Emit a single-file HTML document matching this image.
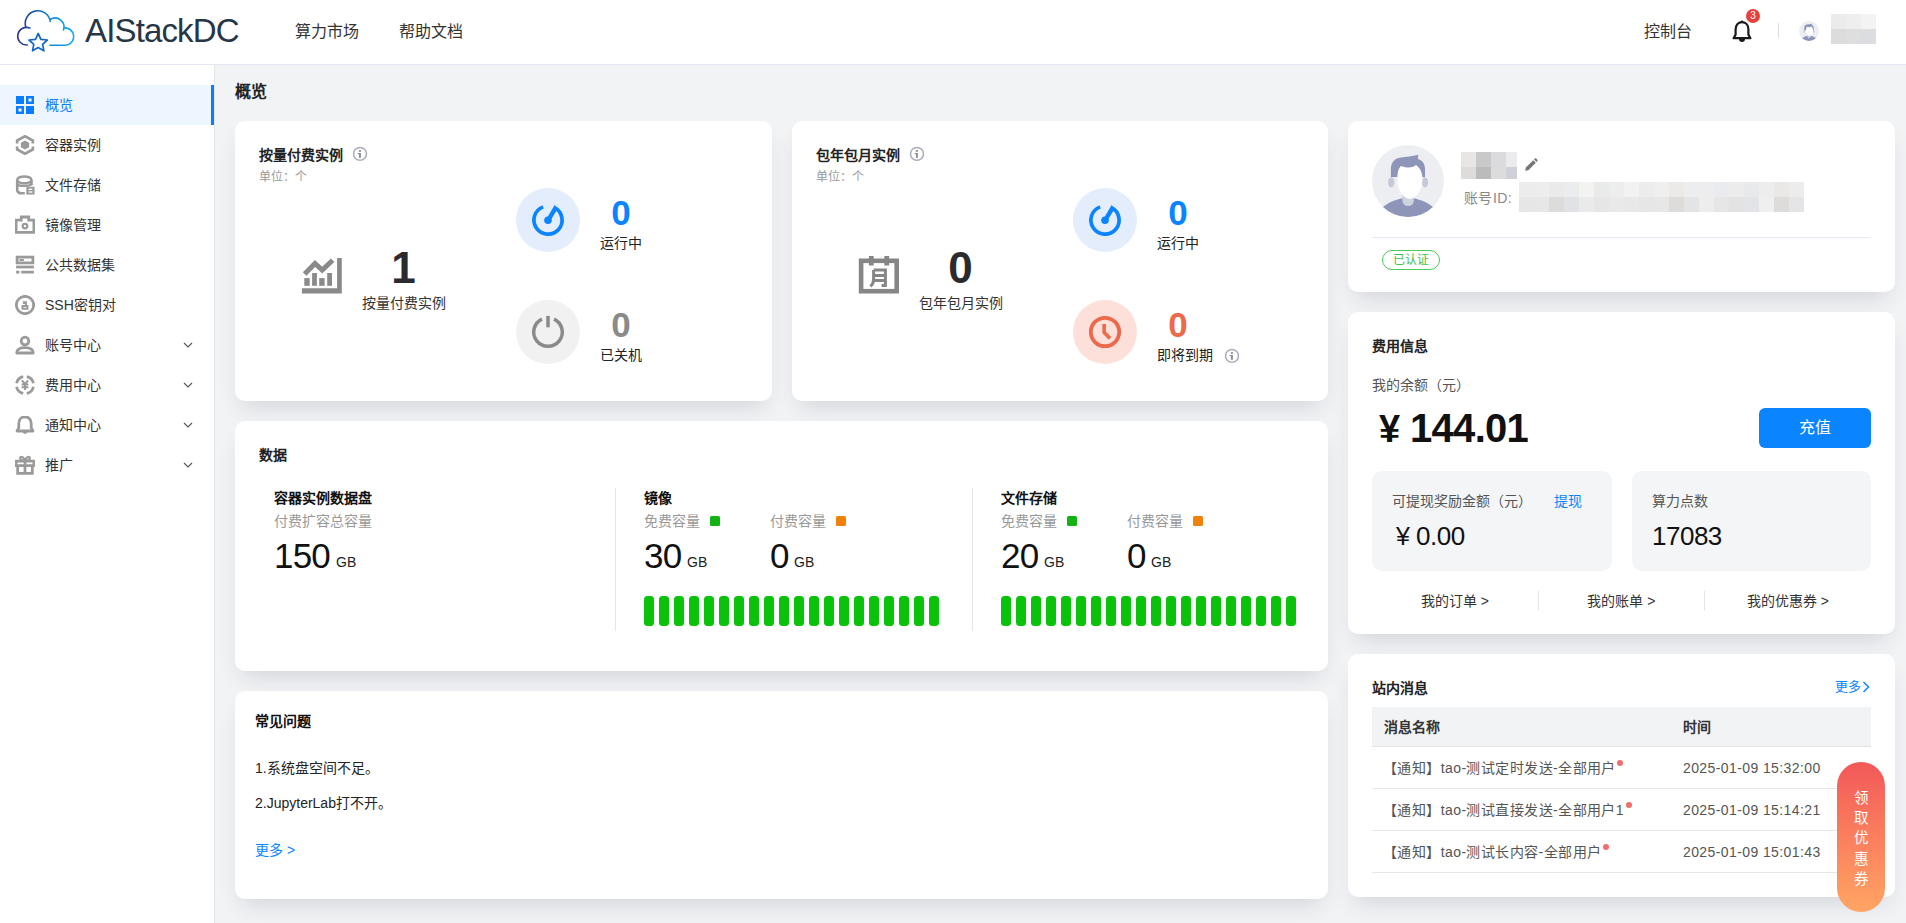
<!DOCTYPE html>
<html lang="zh-CN">
<head>
<meta charset="utf-8">
<title>AIStackDC</title>
<style>
*{box-sizing:border-box;margin:0;padding:0}
html,body{width:1906px;height:923px;overflow:hidden}
body{font-family:"Liberation Sans",sans-serif;background:#f2f3f5;color:#333;position:relative;font-size:14px}
.a{position:absolute}
.t{position:absolute;white-space:nowrap;line-height:1}
.b{font-weight:bold}
/* header */
#hd{position:absolute;left:0;top:0;width:1906px;height:65px;background:#fff;border-bottom:1px solid #e3e7f3}
/* sidebar */
#sb{position:absolute;left:0;top:65px;width:215px;height:858px;background:#fff;border-right:1px solid #e4e5e8}
.mi{position:absolute;left:0;width:214px;height:40px}
.mi .tx{position:absolute;left:45px;top:13px;font-size:14px;line-height:14px;color:#333;white-space:nowrap}
.mi svg.ic{position:absolute;left:16px;top:11px;width:18px;height:18px}
.mi svg.ic2{position:absolute;left:15px;top:10px;width:20px;height:20px}
.mi svg.ch{position:absolute;left:183px;top:15px;width:10px;height:10px}
.mi.on{background:#edf5ff}
.mi.on .tx{color:#0a7cff}
.mi.on:after{content:"";position:absolute;right:0;top:0;width:3px;height:40px;background:#0a7cff}
/* cards */
.card{position:absolute;background:#fff;border-radius:10px;box-shadow:0 12px 24px -8px rgba(20,30,50,.16)}

.ct{position:absolute;left:24px;top:27px;font-size:14px;line-height:14px;font-weight:bold;color:#222;white-space:nowrap}
.cu{position:absolute;left:24px;top:50px;font-size:12px;line-height:12px;color:#999;white-space:nowrap}
.cc{position:absolute;text-align:center;white-space:nowrap;line-height:1}
.circ{position:absolute;width:64px;height:64px;border-radius:32px}
.info{position:absolute;width:16px;height:16px;margin:-1px 0 0 -0.2px}

.hl{position:absolute;height:1px}
.gb{position:absolute;background:#f4f5f7;border-radius:10px}
.th{position:absolute;left:24px;top:53px;width:499px;height:40px;background:#f2f3f5;border-bottom:1px solid #e2e3e6}
.tr{position:absolute;left:24px;width:499px;height:42px;border-bottom:1px solid #e6e7ea}
.dot{position:absolute;width:6px;height:6px;border-radius:3px;background:#f56c6c}

.sq{position:absolute;width:10px;height:10px;border-radius:1.5px}
.seg{position:absolute;top:0;width:10px;height:30px;border-radius:3.5px;background:#0ac20a}
.big{position:absolute;white-space:nowrap;line-height:1;font-size:35px;color:#111;letter-spacing:-0.8px;margin-top:-1px}
.gbu{position:absolute;white-space:nowrap;line-height:1;font-size:14px;color:#222}
</style>
</head>
<body>
<svg width="0" height="0" style="position:absolute"><defs>
<symbol id="avatar" viewBox="0 0 72 72">
<clipPath id="avc"><circle cx="36" cy="36" r="36"/></clipPath>
<circle cx="36" cy="36" r="36" fill="#edeef2"/>
<g clip-path="url(#avc)">
<path d="M4 74 C6 62 18 56 30 53.2 L42 53.2 C54 56 66 62 68 74 Z" fill="#8e95b8"/>
<path d="M30.4 48 L41.9 48 L41.9 55.6 A5.75 5.4 0 0 1 30.4 55.6 Z" fill="#cfd2df"/>
<ellipse cx="19.2" cy="37.4" rx="3.2" ry="5.1" fill="#c5c9d9"/><ellipse cx="53" cy="37.4" rx="3.1" ry="5.1" fill="#c5c9d9"/>
<path d="M18.9 32 L18.9 24 C18.9 17 23 13 29 12.4 C34 12 40 11.6 46.4 9.8 C46.2 11.6 46 13 45.9 14 C50 15 53 18.4 53 24 L53 32 Z" fill="#8e95b8"/>
<path d="M25.4 32 C25.4 27 26.6 23.4 28.9 21 C31 21.8 34 22.5 36.9 22.5 C39.5 22.5 41.8 21.8 43.9 20 C47.6 22.6 50.3 27 50.3 32 L50.3 36 C50.3 45 44 53.9 37.7 53.9 C31.4 53.9 25.4 45 25.4 36 Z" fill="#fff"/>
</g>
</symbol>
</defs></svg>
<!-- HEADER -->
<div id="hd">
<svg class="a" style="left:10px;top:4px" width="72" height="54" viewBox="10 4 72 54" fill="none">
<defs><linearGradient id="lg" x1="16" y1="0" x2="75" y2="0" gradientUnits="userSpaceOnUse"><stop offset="0" stop-color="#2b2b80"/><stop offset=".3" stop-color="#1a5cb0"/><stop offset=".6" stop-color="#0d8ad9"/><stop offset="1" stop-color="#14adf0"/></linearGradient></defs>
<path d="M27.3 45 A8.8 8.8 0 1 1 29.9 28.1 M25.9 27.4 A12.6 12.6 0 1 1 50.3 21.5 M50.4 19.3 A9 9 0 0 1 63.5 30 M63.8 28 A8.65 8.65 0 1 1 65.45 45.2 L50 45.2" stroke="url(#lg)" stroke-width="1.6" stroke-linecap="round" stroke-linejoin="round"/>
<path d="M38.2 33.4 L40.9 39.3 L47.4 40 L42.6 44.4 L43.9 50.8 L38.2 47.6 L32.5 50.8 L33.8 44.4 L29 40 L35.5 39.3 Z" stroke="#1268c4" stroke-width="1.7" stroke-linejoin="round"/>
</svg>
<div class="t" id="logo" style="left:85px;top:14px;font-size:33px;color:#263646;letter-spacing:-0.85px">AIStackDC</div>
<div class="t" style="left:295px;top:24px;font-size:16px;color:#333">算力市场</div>
<div class="t" style="left:399px;top:24px;font-size:16px;color:#333">帮助文档</div>
<div class="t" style="left:1644px;top:24px;font-size:16px;color:#333">控制台</div>
<svg class="a" style="left:1732px;top:20px" width="20" height="23" viewBox="0 0 20 23" fill="none">
<path d="M10 2.2 C5.6 2.2 3.6 5.6 3.6 9.4 L3.6 14.6 L1.6 18.2 L18.4 18.2 L16.4 14.6 L16.4 9.4 C16.4 5.6 14.4 2.2 10 2.2 Z" stroke="#1a1a1a" stroke-width="2.2" stroke-linejoin="round"/>
<path d="M7 19 A3 3 0 0 0 13 19 Z" fill="#1a1a1a"/>
<circle cx="10" cy="1.8" r="1.3" fill="#1a1a1a"/>
</svg>
<div class="a" style="left:1746px;top:9px;width:14px;height:14px;border-radius:7px;background:#e8413a;color:#fff;font-size:10px;line-height:14px;text-align:center">3</div>
<div class="a" style="left:1778px;top:23px;width:1px;height:15px;background:#dcdcdc"></div>
<svg class="a" style="left:1799px;top:21px" width="20" height="20" viewBox="0 0 72 72"><use href="#avatar"/></svg>
<div class="a" style="left:1831px;top:14px;width:45px;height:30px">
<i class="a" style="left:0;top:0;width:15px;height:15px;background:#ebebeb"></i><i class="a" style="left:15px;top:0;width:15px;height:15px;background:#eeeeee"></i><i class="a" style="left:30px;top:0;width:15px;height:15px;background:#f3f3f3"></i>
<i class="a" style="left:0;top:15px;width:15px;height:15px;background:#dddcdb"></i><i class="a" style="left:15px;top:15px;width:15px;height:15px;background:#dedede"></i><i class="a" style="left:30px;top:15px;width:15px;height:15px;background:#dcdde0"></i>
</div>
</div>
<!-- SIDEBAR -->
<div id="sb">
<div class="mi on" style="top:20px"><svg class="ic" viewBox="0 0 18 18"><rect x="0" y="0" width="8" height="8" fill="#0a7cff"/><rect x="10" y="10" width="8" height="8" fill="#0a7cff"/><rect x="11.25" y="1.25" width="5.5" height="5.5" fill="#fff" stroke="#0a7cff" stroke-width="2.5"/><rect x="1.25" y="11.25" width="5.5" height="5.5" fill="#fff" stroke="#0a7cff" stroke-width="2.5"/></svg><span class="tx">概览</span></div>
<div class="mi" style="top:60px"><svg class="ic2" viewBox="0 0 18 18" fill="none"><path d="M1.9 7.7 L1.9 5 L9 1.1 L16.1 5 L16.1 7.7 M1.9 10.3 L1.9 13 L9 16.9 L16.1 13 L16.1 10.3" stroke="#9a9a9a" stroke-width="2.4" stroke-linejoin="miter"/><path d="M9 5 L12.7 7 L12.7 11 L9 13 L5.3 11 L5.3 7 Z" fill="#9a9a9a"/></svg><span class="tx">容器实例</span></div>
<div class="mi" style="top:100px"><svg class="ic2" viewBox="0 0 18 18" fill="none"><path d="M8.8 16.4 L6.4 16.4 C3.4 16.4 2 15.2 2 13.4 L2 4.6 M14.8 4.6 L14.8 9.2" stroke="#9a9a9a" stroke-width="2.4"/><ellipse cx="8.4" cy="4.4" rx="6.4" ry="3.1" stroke="#9a9a9a" stroke-width="2.2"/><path d="M2 8.6 C4 10.2 11.4 10.4 14.8 8.6" stroke="#9a9a9a" stroke-width="2"/><rect x="10.2" y="10.6" width="7.4" height="7" fill="#9a9a9a"/><rect x="12.2" y="12.3" width="3.4" height="1.2" fill="#fff"/><rect x="12.2" y="14.7" width="3.4" height="1.2" fill="#fff"/></svg><span class="tx">文件存储</span></div>
<div class="mi" style="top:140px"><svg class="ic2" viewBox="0 0 18 18" fill="none"><path d="M1 4.6 L5.6 4.6 L5.6 1.8 L12.4 1.8 L12.4 4.6 L17 4.6 L17 15.6 L1 15.6 Z" stroke="#9a9a9a" stroke-width="2.5"/><circle cx="9" cy="10" r="2.1" stroke="#9a9a9a" stroke-width="2"/></svg><span class="tx">镜像管理</span></div>
<div class="mi" style="top:180px"><svg class="ic2" viewBox="0 0 18 18" fill="none"><rect x="1.9" y="1.9" width="14.2" height="5.2" stroke="#9a9a9a" stroke-width="2.5"/><path d="M4 4.5 L8 4.5" stroke="#9a9a9a" stroke-width="1.8"/><path d="M1 10.8 L17 10.8" stroke="#9a9a9a" stroke-width="2.5"/><path d="M1 15.4 L4 15.4 M5.6 15.4 L17 15.4" stroke="#9a9a9a" stroke-width="2.5"/></svg><span class="tx">公共数据集</span></div>
<div class="mi" style="top:220px"><svg class="ic2" viewBox="0 0 18 18" fill="none"><circle cx="9" cy="9" r="7.8" stroke="#9a9a9a" stroke-width="2.5"/><path d="M6.6 12.4 L11.4 12.4 M6.8 10 L11.2 10 L11.2 12.4 L6.8 12.4 Z M9.8 10 L9.8 6.6 L8 6.6 L8 8" stroke="#9a9a9a" stroke-width="1.8"/></svg><span class="tx">SSH密钥对</span></div>
<div class="mi" style="top:260px"><svg class="ic2" viewBox="0 0 18 18" fill="none"><circle cx="9" cy="5.4" r="3.4" stroke="#9a9a9a" stroke-width="2.5"/><path d="M1.6 16.2 L16.4 16.2 C16.4 12.8 13.4 11.4 9 11.4 C4.6 11.4 1.6 12.8 1.6 16.2 Z" stroke="#9a9a9a" stroke-width="2.5" stroke-linejoin="round"/></svg><span class="tx">账号中心</span><svg class="ch" viewBox="0 0 10 10" fill="none"><path d="M1 3 L5 7 L9 3" stroke="#555" stroke-width="1.1"/></svg></div>
<div class="mi" style="top:300px"><svg class="ic2" viewBox="0 0 18 18" fill="none"><path d="M7.4 1.4 A7.8 7.8 0 0 0 1.4 7.4 M1.4 10.6 A7.8 7.8 0 0 0 7.4 16.6 M10.6 16.6 A7.8 7.8 0 0 0 16.6 10.6 M16.6 7.4 A7.8 7.8 0 0 0 10.6 1.4" stroke="#9a9a9a" stroke-width="2.5"/><path d="M6.2 4.8 L9 8.2 L11.8 4.8 M9 8.2 L9 13.4 M6 8.6 L12 8.6 M6 11 L12 11" stroke="#9a9a9a" stroke-width="1.8"/></svg><span class="tx">费用中心</span><svg class="ch" viewBox="0 0 10 10" fill="none"><path d="M1 3 L5 7 L9 3" stroke="#555" stroke-width="1.1"/></svg></div>
<div class="mi" style="top:340px"><svg class="ic2" viewBox="0 0 18 18" fill="none"><path d="M9 1.6 C5.2 1.6 3.4 4.4 3.4 7.6 L3.4 11.6 L1.8 14.4 L16.2 14.4 L14.6 11.6 L14.6 7.6 C14.6 4.4 12.8 1.6 9 1.6 Z" stroke="#9a9a9a" stroke-width="2.5" stroke-linejoin="round"/><path d="M6.8 15.4 A2.3 2.3 0 0 0 11.2 15.4 Z" fill="#9a9a9a"/></svg><span class="tx">通知中心</span><svg class="ch" viewBox="0 0 10 10" fill="none"><path d="M1 3 L5 7 L9 3" stroke="#555" stroke-width="1.1"/></svg></div>
<div class="mi" style="top:380px"><svg class="ic2" viewBox="0 0 18 18" fill="none"><path d="M1 5.6 L17 5.6 L17 9.6 L1 9.6 Z M2.4 9.6 L2.4 16.6 L15.6 16.6 L15.6 9.6 M9 5.6 L9 16.6" stroke="#9a9a9a" stroke-width="2.5"/><path d="M9 5.4 C7 5.4 4.6 4.6 4.6 2.8 C4.6 1.2 7.6 0.8 9 5.4 C10.4 0.8 13.4 1.2 13.4 2.8 C13.4 4.6 11 5.4 9 5.4 Z" stroke="#9a9a9a" stroke-width="2"/></svg><span class="tx">推广</span><svg class="ch" viewBox="0 0 10 10" fill="none"><path d="M1 3 L5 7 L9 3" stroke="#555" stroke-width="1.1"/></svg></div>
</div>
<!-- MAIN -->
<div class="t b" style="left:235px;top:84px;font-size:16px;color:#222">概览</div>
<div class="card" id="c1" style="left:235px;top:121px;width:537px;height:280px"><div class="ct">按量付费实例</div><svg class="info" style="left:117px;top:26px" viewBox="-1 -1 16 16" fill="none"><circle cx="7" cy="6.9" r="6.45" stroke="#a9acb9" stroke-width="1.5"/><rect x="5.9" y="6" width="2" height="4.8" fill="#8f8f8f"/><rect x="4.6" y="6" width="1.5" height="1.1" fill="#8f8f8f"/><rect x="5.8" y="3.1" width="2.2" height="1.7" fill="#8f8f8f"/></svg>
<div class="cu">单位：个</div>
<svg class="a" style="left:66px;top:136px" width="42" height="38" viewBox="0 0 42 38"><path d="M0.9 31.2 L36.1 31.2 L36.1 1.1 L40.8 1.1 L40.8 36.6 L0.9 36.6 Z" fill="#8a8a8a"/><rect x="3.3" y="21.1" width="5.4" height="7.7" fill="#8a8a8a"/><rect x="11.1" y="16" width="4.8" height="12.8" fill="#8a8a8a"/><rect x="18.2" y="21.1" width="5.4" height="7.7" fill="#8a8a8a"/><rect x="26.2" y="16" width="4.8" height="12.8" fill="#8a8a8a"/><path d="M3.6 17 L14 6.5 L21.2 13 L31.6 3.2" stroke="#8a8a8a" stroke-width="5" fill="none"/></svg>
<div class="cc b" style="left:118.5px;width:100px;top:125px;font-size:44px;color:#2b2b2f">1</div>
<div class="cc" style="left:108.5px;width:120px;top:175px;font-size:14px;color:#333">按量付费实例</div>
<div class="circ" style="left:281px;top:67px;background:#e4edfc"><svg class="a" style="left:14px;top:14px" width="36" height="36" viewBox="0 0 34 34" fill="none"><path d="M23.2 5.3 A13.3 13.3 0 1 1 12.4 4.6" stroke="#0a84ff" stroke-width="3.5"/><path d="M15.6 15.8 L23.4 2.6 L25.4 7.6 L18.8 18.4 Z" fill="#0a84ff"/><circle cx="17" cy="17.2" r="3.6" fill="#0a84ff"/></svg></div>
<div class="cc b" style="left:346px;width:80px;top:74px;font-size:35px;color:#0a84ff">0</div>
<div class="cc" style="left:346px;width:80px;top:115px;font-size:14px;color:#222">运行中</div>
<div class="circ" style="left:281px;top:179px;background:#f1f1f1"><svg class="a" style="left:14px;top:14px" width="36" height="36" viewBox="0 0 34 34" fill="none"><path d="M22.7 4.8 A13.5 13.5 0 1 1 11.3 4.8" stroke="#8a8a8a" stroke-width="3.3"/><path d="M17 1.8 L17 12.6" stroke="#8a8a8a" stroke-width="3.3"/></svg></div>
<div class="cc b" style="left:346px;width:80px;top:186px;font-size:35px;color:#8a8a8a">0</div>
<div class="cc" style="left:346px;width:80px;top:227px;font-size:14px;color:#222">已关机</div></div>
<div class="card" id="c2" style="left:792px;top:121px;width:536px;height:280px"><div class="ct">包年包月实例</div><svg class="info" style="left:117px;top:26px" viewBox="-1 -1 16 16" fill="none"><circle cx="7" cy="6.9" r="6.45" stroke="#a9acb9" stroke-width="1.5"/><rect x="5.9" y="6" width="2" height="4.8" fill="#8f8f8f"/><rect x="4.6" y="6" width="1.5" height="1.1" fill="#8f8f8f"/><rect x="5.8" y="3.1" width="2.2" height="1.7" fill="#8f8f8f"/></svg>
<div class="cu">单位：个</div>
<svg class="a" style="left:66px;top:134px" width="42" height="40" viewBox="0 0 42 40" fill="none"><rect x="3.1" y="5.8" width="35.6" height="30.4" stroke="#868686" stroke-width="4.6"/><path d="M13.3 1 L13.3 10.4 M28.75 1 L28.75 10.4" stroke="#868686" stroke-width="4.8"/><path d="M15.6 15 L27.4 15 L27.4 30.6 L23.6 30.6 M15.6 15 L15.6 24.4 C15.6 27.6 14.4 29.6 12.4 31.4 M15.6 20.4 L27.4 20.4 M15.6 25.4 L27.4 25.4" stroke="#868686" stroke-width="3"/></svg>
<div class="cc b" style="left:118.5px;width:100px;top:125px;font-size:44px;color:#2b2b2f">0</div>
<div class="cc" style="left:108.5px;width:120px;top:175px;font-size:14px;color:#333">包年包月实例</div>
<div class="circ" style="left:281px;top:67px;background:#e4edfc"><svg class="a" style="left:14px;top:14px" width="36" height="36" viewBox="0 0 34 34" fill="none"><path d="M23.2 5.3 A13.3 13.3 0 1 1 12.4 4.6" stroke="#0a84ff" stroke-width="3.5"/><path d="M15.6 15.8 L23.4 2.6 L25.4 7.6 L18.8 18.4 Z" fill="#0a84ff"/><circle cx="17" cy="17.2" r="3.6" fill="#0a84ff"/></svg></div>
<div class="cc b" style="left:346px;width:80px;top:74px;font-size:35px;color:#0a84ff">0</div>
<div class="cc" style="left:346px;width:80px;top:115px;font-size:14px;color:#222">运行中</div>
<div class="circ" style="left:281px;top:179px;background:#fde0da"><svg class="a" style="left:14px;top:14px" width="36" height="36" viewBox="0 0 34 34" fill="none"><circle cx="17" cy="17" r="13.4" stroke="#ec6a4b" stroke-width="3.6"/><path d="M16.2 9.4 L16.2 17.4 L21.8 23" stroke="#ec6a4b" stroke-width="3.4"/></svg></div>
<div class="cc b" style="left:346px;width:80px;top:186px;font-size:35px;color:#ec6a4b">0</div>
<div class="t" style="left:365px;top:227px;font-size:14px;color:#222">即将到期</div><svg class="info" style="left:432px;top:228px" viewBox="-1 -1 16 16" fill="none"><circle cx="7" cy="6.9" r="6.45" stroke="#a9acb9" stroke-width="1.5"/><rect x="5.9" y="6" width="2" height="4.8" fill="#8f8f8f"/><rect x="4.6" y="6" width="1.5" height="1.1" fill="#8f8f8f"/><rect x="5.8" y="3.1" width="2.2" height="1.7" fill="#8f8f8f"/></svg></div>
<div class="card" id="c3" style="left:1348px;top:121px;width:547px;height:171px"><svg class="a" style="left:24px;top:24px" width="72" height="72" viewBox="0 0 72 72"><use href="#avatar"/></svg>
<div class="a" style="left:113px;top:31px;width:56px;height:27px;overflow:hidden"><i class="a" style="left:0px;top:0px;width:15px;height:15px;background:#e7e6e4"></i><i class="a" style="left:15px;top:0px;width:15px;height:15px;background:#c9c9c9"></i><i class="a" style="left:30px;top:0px;width:15px;height:15px;background:#dbdbdd"></i><i class="a" style="left:45px;top:0px;width:15px;height:15px;background:#ebebed"></i><i class="a" style="left:0px;top:15px;width:15px;height:12px;background:#dddcdb"></i><i class="a" style="left:15px;top:15px;width:15px;height:12px;background:#bbbbbb"></i><i class="a" style="left:30px;top:15px;width:15px;height:12px;background:#dcdcdc"></i><i class="a" style="left:45px;top:15px;width:15px;height:12px;background:#cfd0d8"></i></div>
<svg class="a" style="left:176px;top:37px" width="14" height="14" viewBox="0 0 14 14"><path d="M1.2 12.8 L1.8 9.6 L9.2 2.2 L11.8 4.8 L4.4 12.2 Z M10 1.4 L10.8 0.6 C11.2 0.2 11.8 0.2 12.2 0.6 L13.4 1.8 C13.8 2.2 13.8 2.8 13.4 3.2 L12.6 4 Z" fill="#777"/></svg>
<div class="t" style="left:116px;top:70px;font-size:14px;color:#888;letter-spacing:.45px">账号ID:</div>
<div class="a" style="left:171px;top:61px;width:285px;height:30px;overflow:hidden"><i class="a" style="left:0.00px;top:0.00px;width:15.50px;height:15.50px;background:#ececec"></i><i class="a" style="left:15.00px;top:0.00px;width:15.50px;height:15.50px;background:#ededed"></i><i class="a" style="left:30.00px;top:0.00px;width:15.50px;height:15.50px;background:#eaeaea"></i><i class="a" style="left:45.00px;top:0.00px;width:15.50px;height:15.50px;background:#ebeced"></i><i class="a" style="left:60.00px;top:0.00px;width:15.50px;height:15.50px;background:#f3f3f2"></i><i class="a" style="left:75.00px;top:0.00px;width:15.50px;height:15.50px;background:#e9eaea"></i><i class="a" style="left:90.00px;top:0.00px;width:15.50px;height:15.50px;background:#ededed"></i><i class="a" style="left:105.00px;top:0.00px;width:15.50px;height:15.50px;background:#f2f2f2"></i><i class="a" style="left:120.00px;top:0.00px;width:15.50px;height:15.50px;background:#ececec"></i><i class="a" style="left:135.00px;top:0.00px;width:15.50px;height:15.50px;background:#efefef"></i><i class="a" style="left:150.00px;top:0.00px;width:15.50px;height:15.50px;background:#ebeae9"></i><i class="a" style="left:165.00px;top:0.00px;width:15.50px;height:15.50px;background:#ecedee"></i><i class="a" style="left:180.00px;top:0.00px;width:15.50px;height:15.50px;background:#ededed"></i><i class="a" style="left:195.00px;top:0.00px;width:15.50px;height:15.50px;background:#eaebee"></i><i class="a" style="left:210.00px;top:0.00px;width:15.50px;height:15.50px;background:#ececec"></i><i class="a" style="left:225.00px;top:0.00px;width:15.50px;height:15.50px;background:#e8e9eb"></i><i class="a" style="left:240.00px;top:0.00px;width:15.50px;height:15.50px;background:#ededed"></i><i class="a" style="left:255.00px;top:0.00px;width:15.50px;height:15.50px;background:#e9e8e7"></i><i class="a" style="left:270.00px;top:0.00px;width:15.50px;height:15.50px;background:#ececec"></i><i class="a" style="left:0.00px;top:15.00px;width:15.50px;height:15.50px;background:#e6e6e6"></i><i class="a" style="left:15.00px;top:15.00px;width:15.50px;height:15.50px;background:#e7e7e7"></i><i class="a" style="left:30.00px;top:15.00px;width:15.50px;height:15.50px;background:#dcdcdc"></i><i class="a" style="left:45.00px;top:15.00px;width:15.50px;height:15.50px;background:#e1e2e5"></i><i class="a" style="left:60.00px;top:15.00px;width:15.50px;height:15.50px;background:#eaeaea"></i><i class="a" style="left:75.00px;top:15.00px;width:15.50px;height:15.50px;background:#e6e6e6"></i><i class="a" style="left:90.00px;top:15.00px;width:15.50px;height:15.50px;background:#e9e9e9"></i><i class="a" style="left:105.00px;top:15.00px;width:15.50px;height:15.50px;background:#e8e8e8"></i><i class="a" style="left:120.00px;top:15.00px;width:15.50px;height:15.50px;background:#e6e6e6"></i><i class="a" style="left:135.00px;top:15.00px;width:15.50px;height:15.50px;background:#e7e7e7"></i><i class="a" style="left:150.00px;top:15.00px;width:15.50px;height:15.50px;background:#dedcdb"></i><i class="a" style="left:165.00px;top:15.00px;width:15.50px;height:15.50px;background:#e3e4e5"></i><i class="a" style="left:180.00px;top:15.00px;width:15.50px;height:15.50px;background:#ededed"></i><i class="a" style="left:195.00px;top:15.00px;width:15.50px;height:15.50px;background:#e6e6e6"></i><i class="a" style="left:210.00px;top:15.00px;width:15.50px;height:15.50px;background:#e3e3e3"></i><i class="a" style="left:225.00px;top:15.00px;width:15.50px;height:15.50px;background:#e3e4e7"></i><i class="a" style="left:240.00px;top:15.00px;width:15.50px;height:15.50px;background:#efefef"></i><i class="a" style="left:255.00px;top:15.00px;width:15.50px;height:15.50px;background:#dddcda"></i><i class="a" style="left:270.00px;top:15.00px;width:15.50px;height:15.50px;background:#e5e5e7"></i></div>
<div class="hl" style="left:24px;top:116px;width:499px;background:#e4e9f7"></div>
<div class="a" style="left:34px;top:129px;width:58px;height:20px;border:1px solid #4cc95a;border-radius:10px;color:#3fc24f;font-size:12px;line-height:18px;text-align:center;white-space:nowrap">已认证</div></div>
<div class="card" id="c4" style="left:1348px;top:312px;width:547px;height:322px"><div class="t b" style="left:24px;top:27px;font-size:14px;color:#222">费用信息</div>
<div class="t" style="left:24px;top:66px;font-size:14px;color:#555">我的余额（元）</div>
<div class="t b" id="yen1" style="left:31px;top:98px;font-size:38px;color:#111">¥</div><div class="t b" id="bal" style="left:62px;top:96px;font-size:40px;color:#111;letter-spacing:-0.7px">144.01</div>
<div class="a" style="left:411px;top:96px;width:112px;height:40px;border-radius:6px;background:#0a84ff;color:#fff;font-size:16px;line-height:40px;text-align:center">充值</div>
<div class="gb" style="left:24px;top:159px;width:240px;height:100px"></div>
<div class="gb" style="left:284px;top:159px;width:239px;height:100px"></div>
<div class="t" style="left:44px;top:182px;font-size:14px;color:#555">可提现奖励金额（元）</div>
<div class="t" style="left:206px;top:182px;font-size:14px;color:#0a84ff">提现</div>
<div class="t" id="yen2" style="left:48px;top:212px;font-size:25px;color:#111">¥</div><div class="t" id="rew" style="left:68px;top:211px;font-size:26px;color:#111;letter-spacing:-0.5px">0.00</div>
<div class="t" style="left:304px;top:182px;font-size:14px;color:#555">算力点数</div>
<div class="t" id="pts" style="left:304px;top:211px;font-size:26px;color:#111;letter-spacing:-0.5px">17083</div>
<div class="cc" style="left:24px;width:166px;top:282px;font-size:14px;color:#333">我的订单 &gt;</div>
<div class="cc" style="left:190px;width:167px;top:282px;font-size:14px;color:#333">我的账单 &gt;</div>
<div class="cc" style="left:357px;width:166px;top:282px;font-size:14px;color:#333">我的优惠券 &gt;</div>
<div class="a" style="left:190px;top:279px;width:1px;height:19px;background:#e3e3e3"></div>
<div class="a" style="left:356px;top:279px;width:1px;height:19px;background:#e3e3e3"></div></div>
<div class="card" id="c5" style="left:1348px;top:654px;width:547px;height:243px"><div class="t b" style="left:24px;top:27px;font-size:14px;color:#222">站内消息</div>
<div class="t" style="left:487px;top:26px;font-size:13px;color:#0a84ff">更多</div>
<svg class="a" style="left:514px;top:27px" width="8" height="12" viewBox="0 0 8 12" fill="none"><path d="M1.5 1 L6.5 6 L1.5 11" stroke="#0a84ff" stroke-width="1.5"/></svg>
<div class="th"><div class="t b" style="left:12px;top:13px;font-size:14px;color:#333">消息名称</div><div class="t b" style="left:311px;top:13px;font-size:14px;color:#333">时间</div></div>
<div class="tr" style="top:93px"><div class="t msg" style="left:11px;top:14px;font-size:14px;color:#555;letter-spacing:.42px">【通知】tao-测试定时发送-全部用户</div><i class="dot" style="left:245px;top:13px"></i><div class="t tm" style="left:311px;top:14px;font-size:14px;color:#555;letter-spacing:0.4px">2025-01-09 15:32:00</div></div>
<div class="tr" style="top:135px"><div class="t msg" style="left:11px;top:14px;font-size:14px;color:#555;letter-spacing:.42px">【通知】tao-测试直接发送-全部用户1</div><i class="dot" style="left:254px;top:13px"></i><div class="t tm" style="left:311px;top:14px;font-size:14px;color:#555;letter-spacing:0.4px">2025-01-09 15:14:21</div></div>
<div class="tr" style="top:177px"><div class="t msg" style="left:11px;top:14px;font-size:14px;color:#555;letter-spacing:.42px">【通知】tao-测试长内容-全部用户</div><i class="dot" style="left:231px;top:13px"></i><div class="t tm" style="left:311px;top:14px;font-size:14px;color:#555;letter-spacing:0.4px">2025-01-09 15:01:43</div></div>
</div>
<div class="card" id="c6" style="left:235px;top:421px;width:1093px;height:250px"><div class="t b" style="left:24px;top:27px;font-size:14px;color:#222">数据</div>
<div class="t b" style="left:39px;top:70px;font-size:14px;color:#111">容器实例数据盘</div>
<div class="t" style="left:39px;top:93px;font-size:14px;color:#999">付费扩容总容量</div>
<div class="big" id="n150" style="left:39px;top:118px">150</div><div class="gbu" style="left:101px;top:134px">GB</div>
<div class="a" style="left:380px;top:67px;width:1px;height:143px;background:#e4e4e4"></div>
<div class="a" style="left:737px;top:67px;width:1px;height:143px;background:#e4e4e4"></div>
<div class="t b" style="left:409px;top:70px;font-size:14px;color:#111">镜像</div>
<div class="t" style="left:409px;top:93px;font-size:14px;color:#999">免费容量</div><i class="sq" style="left:475px;top:95px;background:#12b312"></i>
<div class="t" style="left:535px;top:93px;font-size:14px;color:#999">付费容量</div><i class="sq" style="left:601px;top:95px;background:#f0820a"></i>
<div class="big" style="left:409px;top:118px">30</div><div class="gbu" style="left:452px;top:134px">GB</div>
<div class="big" style="left:535px;top:118px">0</div><div class="gbu" style="left:559px;top:134px">GB</div>
<div class="a" style="left:409px;top:175px;width:300px;height:30px"><i class="seg" style="left:0px"></i><i class="seg" style="left:15px"></i><i class="seg" style="left:30px"></i><i class="seg" style="left:45px"></i><i class="seg" style="left:60px"></i><i class="seg" style="left:75px"></i><i class="seg" style="left:90px"></i><i class="seg" style="left:105px"></i><i class="seg" style="left:120px"></i><i class="seg" style="left:135px"></i><i class="seg" style="left:150px"></i><i class="seg" style="left:165px"></i><i class="seg" style="left:180px"></i><i class="seg" style="left:195px"></i><i class="seg" style="left:210px"></i><i class="seg" style="left:225px"></i><i class="seg" style="left:240px"></i><i class="seg" style="left:255px"></i><i class="seg" style="left:270px"></i><i class="seg" style="left:285px"></i></div>
<div class="t b" style="left:766px;top:70px;font-size:14px;color:#111">文件存储</div>
<div class="t" style="left:766px;top:93px;font-size:14px;color:#999">免费容量</div><i class="sq" style="left:832px;top:95px;background:#12b312"></i>
<div class="t" style="left:892px;top:93px;font-size:14px;color:#999">付费容量</div><i class="sq" style="left:958px;top:95px;background:#f0820a"></i>
<div class="big" style="left:766px;top:118px">20</div><div class="gbu" style="left:809px;top:134px">GB</div>
<div class="big" style="left:892px;top:118px">0</div><div class="gbu" style="left:916px;top:134px">GB</div>
<div class="a" style="left:766px;top:175px;width:300px;height:30px"><i class="seg" style="left:0px"></i><i class="seg" style="left:15px"></i><i class="seg" style="left:30px"></i><i class="seg" style="left:45px"></i><i class="seg" style="left:60px"></i><i class="seg" style="left:75px"></i><i class="seg" style="left:90px"></i><i class="seg" style="left:105px"></i><i class="seg" style="left:120px"></i><i class="seg" style="left:135px"></i><i class="seg" style="left:150px"></i><i class="seg" style="left:165px"></i><i class="seg" style="left:180px"></i><i class="seg" style="left:195px"></i><i class="seg" style="left:210px"></i><i class="seg" style="left:225px"></i><i class="seg" style="left:240px"></i><i class="seg" style="left:255px"></i><i class="seg" style="left:270px"></i><i class="seg" style="left:285px"></i></div></div>
<div class="card" id="c7" style="left:235px;top:691px;width:1093px;height:208px"><div class="t b" style="left:20px;top:23px;font-size:14px;color:#111">常见问题</div>
<div class="t" style="left:20px;top:70px;font-size:14px;color:#222">1.系统盘空间不足。</div>
<div class="t" style="left:20px;top:105px;font-size:14px;color:#222">2.JupyterLab打不开。</div>
<div class="t" style="left:20px;top:152px;font-size:14px;color:#0a84ff">更多 &gt;</div></div>
<div class="a" style="left:1837px;top:762px;width:48px;height:150px;border-radius:24px;background:linear-gradient(180deg,#f25858 0%,#fb7f5e 50%,#ffa564 100%);color:#fff;font-size:14.5px;line-height:20.2px;text-align:center;padding-top:26px">领<br>取<br>优<br>惠<br>券</div>
</body>
</html>
